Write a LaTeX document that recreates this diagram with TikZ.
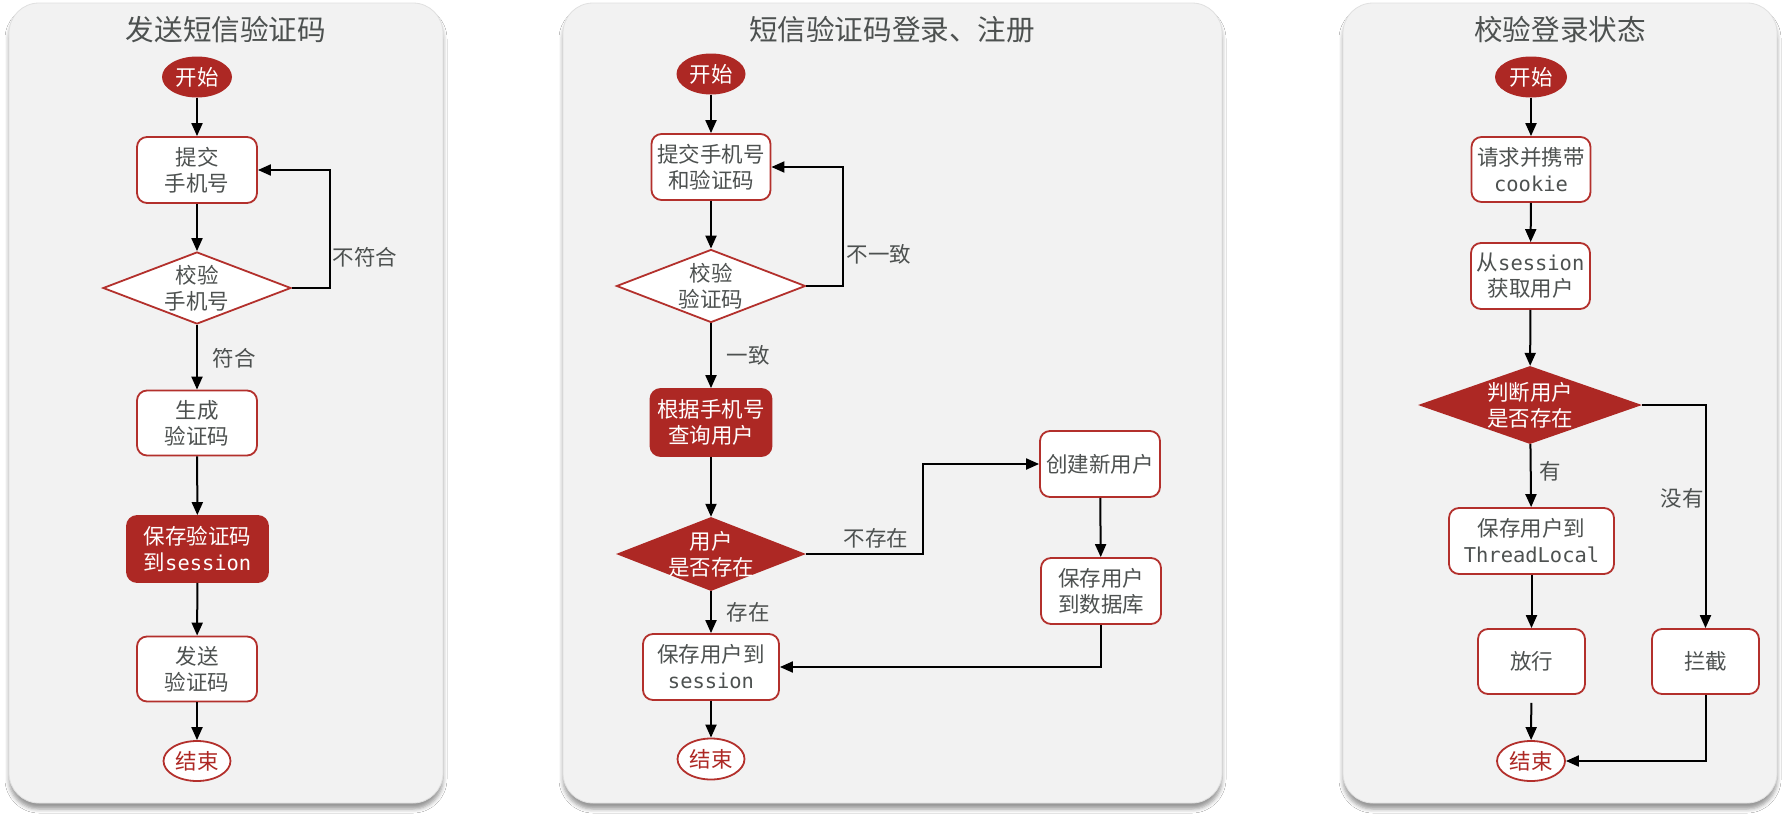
\documentclass[tikz,border=0pt]{standalone}
\usepackage{fontspec}
\setmainfont{Noto Sans CJK SC}
\setmonofont[Scale=0.95]{DejaVu Sans Mono}
\usetikzlibrary{arrows.meta,shapes.geometric,shadows.blur}
\definecolor{rd}{HTML}{AD2824}
\definecolor{rdb}{HTML}{B3302C}
\definecolor{txt}{HTML}{4D5150}
\definecolor{pan}{HTML}{F2F2F2}
\tikzset{
  base/.style={font=\fontsize{21.5}{26}\selectfont, text=txt, align=center, inner sep=0pt},
  sz/.style 2 args={minimum width=#1pt, minimum height=#2pt},
  wbox/.style={base, rectangle, rounded corners=10pt, draw=rdb, line width=1.8pt, fill=white},
  rbox/.style={base, rectangle, rounded corners=10pt, draw=rd, line width=1.8pt, fill=rd, text=white},
  startnode/.style={base, ellipse, fill=rd, text=white},
  endnode/.style={base, ellipse, draw=rdb, line width=1.8pt, fill=white, text=rd},
  wdia/.style={diamond, draw=rdb, line width=1.8pt, fill=white, inner sep=0pt},
  rdia/.style={diamond, fill=rd, inner sep=0pt},
  dtext/.style={base},
  lbl/.style={base},
  title/.style={font=\fontsize{28.6}{34}\selectfont, text=txt, inner sep=0pt},
  arr/.style={-{Triangle[length=13pt,width=11pt]}, line width=2pt, black},
  panel/.style={fill=pan, draw=black!12, line width=0.8pt, rounded corners=30pt,
    blur shadow={shadow xshift=0pt, shadow yshift=-6pt, shadow blur radius=4pt, shadow opacity=40}}
}
\begin{document}
\begin{tikzpicture}[x=1pt, y=-1pt]
\useasboundingbox (0,0) rectangle (1786,819);
\fill[white] (0,0) rectangle (1786,819);
% panels
\path[panel] (9,3) rectangle (443,803);
\path[panel] (563,3) rectangle (1222,803);
\path[panel] (1343,3) rectangle (1777,803);
\node[title] (t1) at (226,30) {发送短信验证码};
\node[title] (t2) at (892,30) {短信验证码登录、注册};
\node[title] (t3) at (1560,30) {校验登录状态};

% ---------- panel 1
\node[startnode, sz={70}{41}] (s1) at (197,77) {开始};
\node[wbox, sz={120}{66}] (p1a) at (197,170) {提交\\手机号};
\node[wdia, sz={188}{72}, label={[dtext]center:校验\\手机号}] (p1d) at (197,288) {};
\node[wbox, sz={120}{65}] (p1b) at (197,423) {生成\\验证码};
\node[rbox, sz={141}{66}] (p1c) at (197.5,549) {保存验证码\\到\texttt{session}};
\node[wbox, sz={120}{65}] (p1e) at (197,669) {发送\\验证码};
\node[endnode, sz={67}{40}] (e1) at (197,761) {结束};
\node[lbl] (l1a) at (365,257) {不符合};
\node[lbl] (l1b) at (234,358) {符合};
\draw[arr] (s1) -- (p1a);
\draw[arr] (p1a) -- (p1d);
\draw[arr] (p1d.east) -- ++(38,0) |- (p1a.east);
\draw[arr] (p1d) -- (p1b);
\draw[arr] (p1b) -- (p1c);
\draw[arr] (p1c) -- (p1e);
\draw[arr] (p1e) -- (e1);

% ---------- panel 2
\node[startnode, sz={69}{41}] (s2) at (711,74) {开始};
\node[wbox, sz={119}{66}] (p2a) at (711,167) {提交手机号\\和验证码};
\node[wdia, sz={189}{73}, label={[dtext]center:校验\\验证码}] (p2d) at (711,286) {};
\node[rbox, sz={121}{67}] (p2b) at (711,422.5) {根据手机号\\查询用户};
\node[rdia, sz={190}{74}, label={[dtext,text=white]center:用户\\是否存在}] (p2q) at (711,554) {};
\node[wbox, sz={136}{66}] (p2s) at (711,667) {保存用户到\\\texttt{session}};
\node[endnode, sz={67}{41}] (e2) at (711,759) {结束};
\node[wbox, sz={120}{66}] (p2c) at (1100,464) {创建新用户};
\node[wbox, sz={120}{66}] (p2db) at (1101,591) {保存用户\\到数据库};
\node[lbl] (l2a) at (879,254) {不一致};
\node[lbl] (l2b) at (748,355) {一致};
\node[lbl] (l2c) at (876,538) {不存在};
\node[lbl] (l2d) at (748,612) {存在};
\draw[arr] (s2) -- (p2a);
\draw[arr] (p2a) -- (p2d);
\draw[arr] (p2d.east) -- ++(37,0) |- (p2a.east);
\draw[arr] (p2d) -- (p2b);
\draw[arr] (p2b) -- (p2q);
\draw[arr] (p2q.east) -- ++(117,0) |- (p2c.west);
\draw[arr] (p2c) -- (p2db);
\draw[arr] (p2db.south) |- (p2s.east);
\draw[arr] (p2q) -- (p2s);
\draw[arr] (p2s) -- (e2);

% ---------- panel 3
\node[startnode, sz={72}{41}] (s3) at (1531,77) {开始};
\node[wbox, sz={119}{65}] (p3a) at (1531,169.5) {请求并携带\\\texttt{cookie}};
\node[wbox, sz={119}{66}] (p3b) at (1530.5,276) {从\texttt{session}\\获取用户};
\node[rdia, sz={224}{78}, label={[dtext,text=white]center:判断用户\\是否存在}] (p3d) at (1530,405) {};
\node[wbox, sz={165}{66}] (p3t) at (1531.5,541) {保存用户到\\\texttt{ThreadLocal}};
\node[wbox, sz={107}{65}] (p3p) at (1531.5,661.5) {放行};
\node[wbox, sz={107}{65}] (p3i) at (1705.5,661.5) {拦截};
\node[endnode, sz={68}{40}] (e3) at (1531,761) {结束};
\node[lbl] (l3a) at (1550,471) {有};
\node[lbl] (l3b) at (1682,498) {没有};
\draw[arr] (s3) -- (p3a);
\draw[arr] (p3a) -- (p3b);
\draw[arr] (p3b) -- (p3d);
\draw[arr] (p3d) -- (p3t);
\draw[arr] (p3t) -- (p3p);
\draw[arr, shorten <=8pt] (p3p) -- (e3);
\draw[arr] (p3d.east) -| (p3i.north);
\draw[arr] (p3i.south) |- (e3.east);
\end{tikzpicture}
\end{document}
